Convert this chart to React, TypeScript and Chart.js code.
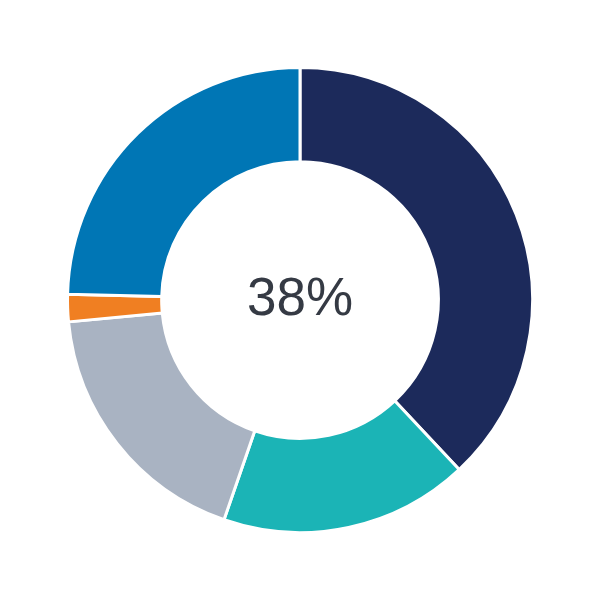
import React, { useEffect, useRef } from "react";
import { Chart, registerables } from "chart.js";

Chart.register(...registerables);

const categories = ["Navy", "Teal", "Gray", "Orange", "Blue"];
const values = [38, 17.3, 18.2, 1.9, 24.6];
const colors = ["#1c2a5b", "#1bb4b6", "#a9b3c2", "#f07f22", "#0076b5"];
const centerLabel = "38%";

const centerTextPlugin = {
  id: "centerText",
  afterDraw(chart: any) {
    const { ctx } = chart;
    const meta = chart.getDatasetMeta(0);
    const arc = meta.data[0];
    if (!arc) return;
    const { x, y } = arc.getProps(["x", "y"], true);
    ctx.save();
    ctx.font = '53px "Liberation Sans", Arial, sans-serif';
    ctx.fillStyle = "#353a44";
    ctx.textAlign = "center";
    ctx.textBaseline = "alphabetic";
    ctx.fillText(centerLabel, x, y + 15);
    ctx.restore();
  },
};

export default function App() {
  const ref = useRef<HTMLCanvasElement | null>(null);
  useEffect(() => {
    if (!ref.current) return;
    const chart = new Chart(ref.current, {
      type: "doughnut",
      data: {
        labels: categories,
        datasets: [
          {
            data: values,
            backgroundColor: colors,
            borderColor: "#ffffff",
            borderWidth: 3,
            hoverOffset: 0,
          },
        ],
      },
      options: {
        animation: false,
        responsive: false,
        cutout: "59.5%",
        layout: { padding: 66 },
        plugins: {
          legend: { display: false },
          tooltip: { enabled: false },
        },
      },
      plugins: [centerTextPlugin],
    });
    return () => chart.destroy();
  }, []);
  return (
    <div style={{ position: "fixed", left: 0, top: 0, width: 600, height: 600, background: "#fff" }}>
      <canvas ref={ref} width={600} height={600} style={{ width: 600, height: 600 }} />
    </div>
  );
}
